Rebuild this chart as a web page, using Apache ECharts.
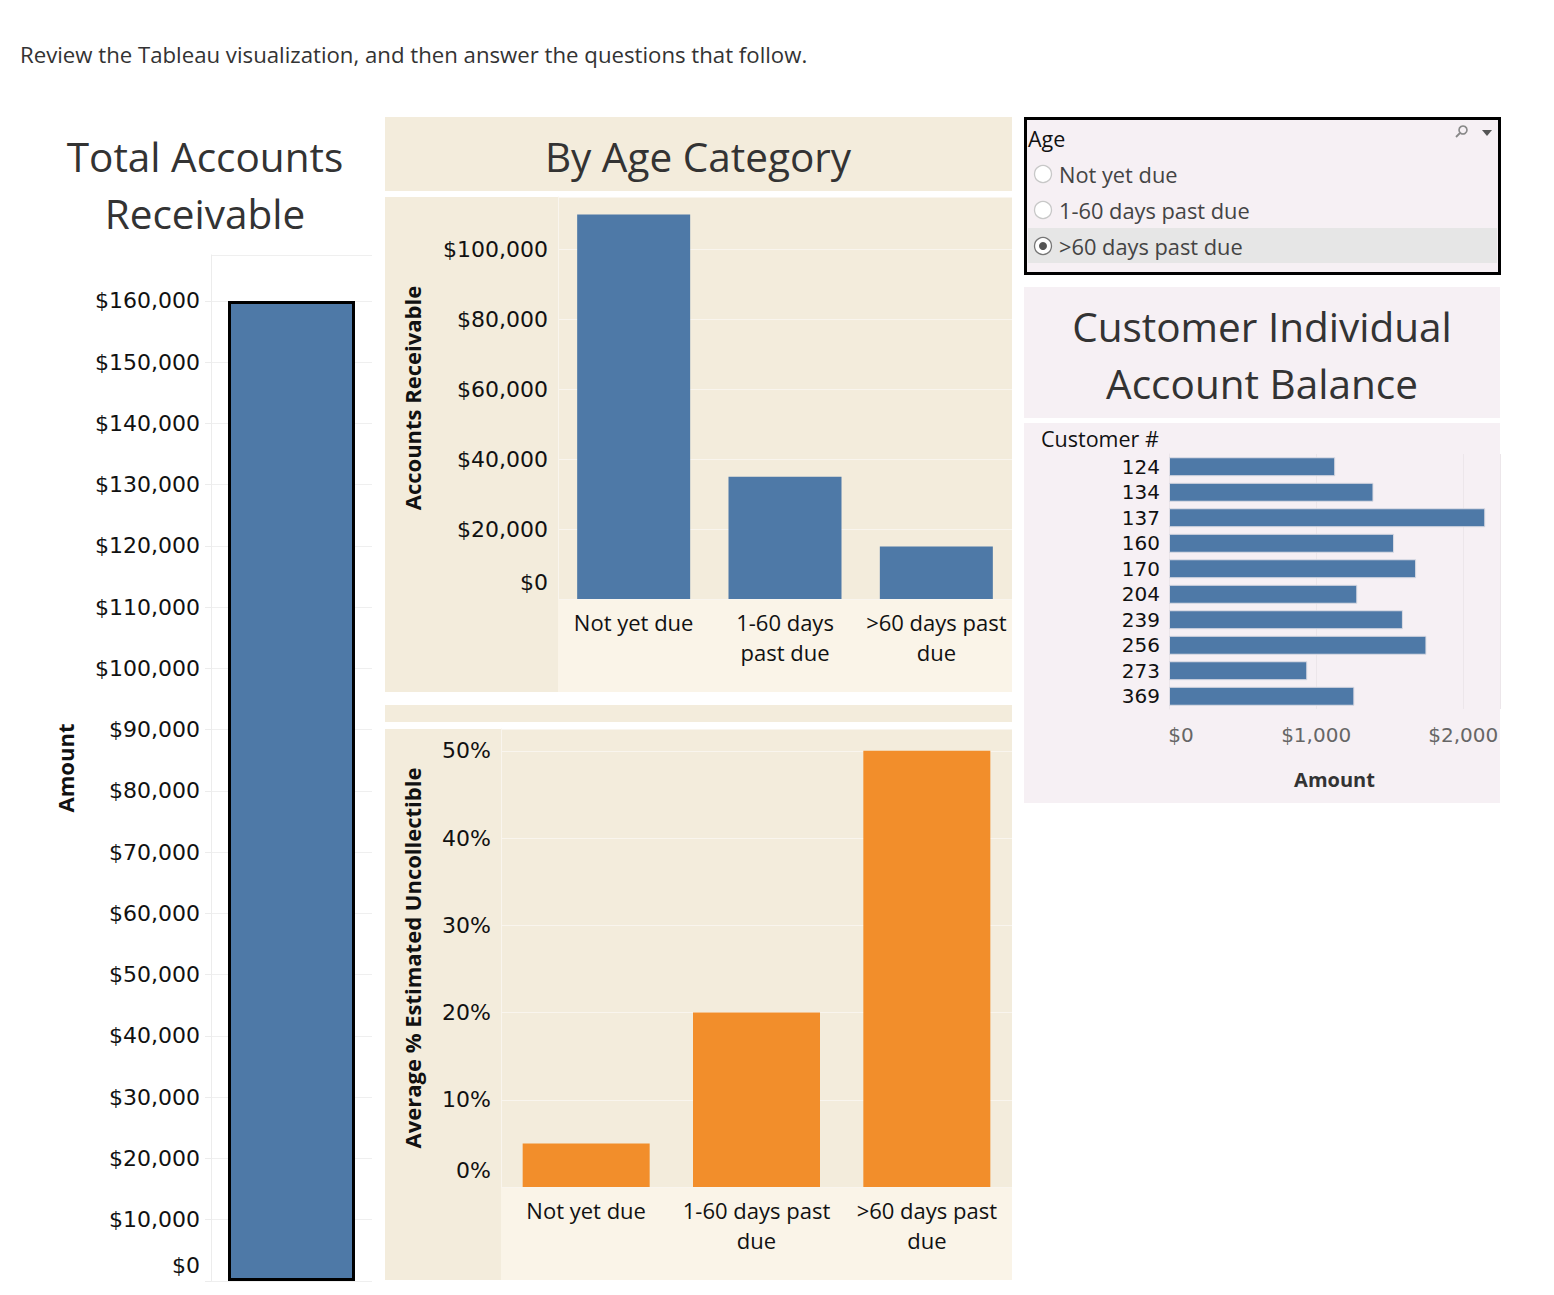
<!DOCTYPE html>
<html>
<head>
<meta charset="utf-8">
<script src="https://cdn.jsdelivr.net/npm/echarts@6/dist/echarts.min.js"></script>
<style>
  html, body { margin: 0; padding: 0; background: #ffffff; }
  #chart { position: absolute; left: 0; top: 0; width: 1554px; height: 1295px; }
</style>
</head>
<body>
<div id="chart"></div>
<script>
// ---------------- data ----------------
const totalCategories = ['Total'];
const totalAmounts = [160000];

const ageCategories = ['Not yet due', '1-60 days past due', '>60 days past due'];
const ageAmounts = [110000, 35000, 15000];
const uncollectiblePct = [0.05, 0.20, 0.50];

const topAgeLabels = ['Not yet due', '1-60 days\npast due', '>60 days past\ndue'];
const bottomAgeLabels = ['Not yet due', '1-60 days past\ndue', '>60 days past\ndue'];

const customers = ['124', '134', '137', '160', '170', '204', '239', '256', '273', '369'];
const customerAmounts = [1130, 1390, 2150, 1530, 1680, 1280, 1590, 1750, 940, 1260];

const ageFilterOptions = ['Not yet due', '1-60 days past due', '>60 days past due'];
const selectedAge = '>60 days past due';

const headerText = 'Review the Tableau visualization, and then answer the questions that follow.';

// ---------------- style ----------------
const FONT = 'Open Sans';
const NUMFONT = 'DejaVu Sans';
const BLUE = '#4e79a7';
const ORANGE = '#f28e2b';
const BEIGE = '#f3ecdc';
const BEIGE_LIGHT = '#faf4e8';
const LAV = '#f6f0f4';

function money(v) {
  return '$' + Math.round(v).toLocaleString('en-US');
}

const chart = echarts.init(document.getElementById('chart'), null, { renderer: 'svg' });

function zeroRich(pad, size) {
  return { z: { fontFamily: NUMFONT, fontSize: size, color: '#111', padding: pad } };
}

// ---------------- decorations ----------------
const graphics = [
  // header
  { type: 'text', x: 20, y: 54, z: 100, style: { text: headerText, font: '400 22.2px ' + FONT, fill: '#333', verticalAlign: 'middle' } },

  // left title
  { type: 'text', x: 205, y: 156, z: 100, style: { text: 'Total Accounts', font: '400 40.5px ' + FONT, fill: '#333', align: 'center', verticalAlign: 'middle' } },
  { type: 'text', x: 205, y: 213, z: 100, style: { text: 'Receivable', font: '400 40.5px ' + FONT, fill: '#333', align: 'center', verticalAlign: 'middle' } },

  // middle panels
  { type: 'rect', z: -10, shape: { x: 385, y: 117, width: 627, height: 74 }, style: { fill: BEIGE } },
  { type: 'text', x: 698, y: 156, z: 100, style: { text: 'By Age Category', font: '400 40.5px ' + FONT, fill: '#333', align: 'center', verticalAlign: 'middle' } },
  { type: 'rect', z: -10, shape: { x: 385, y: 197, width: 627, height: 495 }, style: { fill: BEIGE } },
  { type: 'rect', z: -9, shape: { x: 558, y: 599, width: 454, height: 93 }, style: { fill: BEIGE_LIGHT } },
  { type: 'rect', z: -10, shape: { x: 385, y: 705, width: 627, height: 17 }, style: { fill: BEIGE } },
  { type: 'rect', z: -10, shape: { x: 385, y: 729, width: 627, height: 551 }, style: { fill: BEIGE } },
  { type: 'rect', z: -9, shape: { x: 501, y: 1187, width: 511, height: 93 }, style: { fill: BEIGE_LIGHT } },

  // filter panel
  { type: 'rect', z: -10, shape: { x: 1025.5, y: 118.5, width: 474, height: 155 }, style: { fill: LAV, stroke: '#000', lineWidth: 3 } },
  { type: 'rect', z: -9, shape: { x: 1028, y: 228, width: 469, height: 35 }, style: { fill: '#e6e6e6' } },
  { type: 'text', x: 1028, y: 138, z: 100, style: { text: 'Age', font: '400 21.5px ' + FONT, fill: '#111', verticalAlign: 'middle' } },
  { type: 'circle', z: 100, shape: { cx: 1463, cy: 130, r: 4 }, style: { fill: 'none', stroke: '#888', lineWidth: 1.6 } },
  { type: 'line', z: 100, shape: { x1: 1460, y1: 133, x2: 1456, y2: 137 }, style: { stroke: '#888', lineWidth: 1.8 } },
  { type: 'polygon', z: 100, shape: { points: [[1482, 130], [1492, 130], [1487, 136]] }, style: { fill: '#555' } },

  // customer panels
  { type: 'rect', z: -10, shape: { x: 1024, y: 287, width: 476, height: 131 }, style: { fill: LAV } },
  { type: 'text', x: 1262, y: 326, z: 100, style: { text: 'Customer Individual', font: '400 40.5px ' + FONT, fill: '#333', align: 'center', verticalAlign: 'middle' } },
  { type: 'text', x: 1262, y: 383, z: 100, style: { text: 'Account Balance', font: '400 40.5px ' + FONT, fill: '#333', align: 'center', verticalAlign: 'middle' } },
  { type: 'rect', z: -10, shape: { x: 1024, y: 423, width: 476, height: 380 }, style: { fill: LAV } },
  { type: 'text', x: 1041, y: 438, z: 100, style: { text: 'Customer #', font: '400 21.5px ' + FONT, fill: '#111', verticalAlign: 'middle' } }
];

ageFilterOptions.forEach(function (opt, i) {
  const cy = 174 + i * 36;
  const sel = opt === selectedAge;
  graphics.push({ type: 'circle', z: 100, shape: { cx: 1043, cy: cy, r: 8.5 }, style: { fill: '#fff', stroke: sel ? '#777' : '#c8c8c8', lineWidth: 1.3 } });
  if (sel) {
    graphics.push({ type: 'circle', z: 101, shape: { cx: 1043, cy: cy, r: 4 }, style: { fill: '#555' } });
  }
  graphics.push({ type: 'text', x: 1059, y: cy, z: 100, style: { text: opt, font: '400 21.8px ' + FONT, fill: '#444', verticalAlign: 'middle' } });
});

// ---------------- option ----------------
const option = {
  animation: false,
  backgroundColor: '#ffffff',
  textStyle: { fontFamily: FONT },
  graphic: graphics,
  grid: [
    { left: 211, right: 1554 - 372, top: 255, bottom: 1295 - 1281 },
    { left: 558, right: 1554 - 1012, top: 197, bottom: 1295 - 599 },
    { left: 501, right: 1554 - 1012, top: 729, bottom: 1295 - 1187 },
    { left: 1169, right: 1554 - 1500, top: 454, bottom: 1295 - 709 }
  ],
  xAxis: [
    { type: 'category', gridIndex: 0, data: totalCategories, axisLine: { show: false }, axisTick: { show: false }, axisLabel: { show: false } },
    { type: 'category', gridIndex: 1, data: ageCategories, axisLine: { show: false }, axisTick: { show: false },
      axisLabel: { margin: 8, fontFamily: FONT, fontSize: 22, color: '#111', lineHeight: 30, interval: 0,
        formatter: function (v, i) { return topAgeLabels[i]; } } },
    { type: 'category', gridIndex: 2, data: ageCategories, axisLine: { show: false }, axisTick: { show: false },
      axisLabel: { margin: 8, fontFamily: FONT, fontSize: 22, color: '#111', lineHeight: 30, interval: 0,
        formatter: function (v, i) { return bottomAgeLabels[i]; } } },
    { type: 'value', gridIndex: 3, min: 0, max: 2250, interval: 1000,
      name: 'Amount', nameLocation: 'middle', nameGap: 60, nameMoveOverlap: false,
      nameTextStyle: { fontFamily: FONT, fontSize: 20, fontWeight: 'bold', color: '#333' },
      axisLine: { show: false }, axisTick: { show: false },
      splitLine: { show: true, lineStyle: { color: '#ece6ea' } },
      axisLabel: { margin: 16, fontFamily: NUMFONT, fontSize: 20, color: '#666', showMaxLabel: false,
        formatter: function (v) { return v === 0 ? '{z|' + money(v) + '}' : money(v); },
        rich: { z: { fontFamily: NUMFONT, fontSize: 20, color: '#666', padding: [0, 0, 0, 24] } } } }
  ],
  yAxis: [
    { type: 'value', gridIndex: 0, min: 0, max: 167500, interval: 10000,
      name: 'Amount', nameLocation: 'middle', nameGap: 135, nameMoveOverlap: false,
      nameTextStyle: { fontFamily: FONT, fontSize: 22, fontWeight: 'bold', color: '#111' },
      axisLine: { show: true, lineStyle: { color: '#ececec' } },
      axisTick: { show: true, length: 6, lineStyle: { color: '#ececec' } },
      splitLine: { show: true, lineStyle: { color: '#efefef' } },
      axisLabel: { margin: 11, fontFamily: NUMFONT, fontSize: 22, color: '#111', showMaxLabel: false,
        formatter: function (v) { return v === 0 ? '{z|' + money(v) + '}' : money(v); }, rich: zeroRich([0, 0, 32, 0], 22) } },
    { type: 'value', gridIndex: 1, min: 0, max: 115000, interval: 20000,
      name: 'Accounts Receivable', nameLocation: 'middle', nameGap: 135, nameMoveOverlap: false,
      nameTextStyle: { fontFamily: FONT, fontSize: 22, fontWeight: 'bold', color: '#111' },
      axisLine: { show: true, lineStyle: { color: '#f9f5ee' } },
      axisTick: { show: false },
      splitLine: { show: true, lineStyle: { color: '#f9f5ee' } },
      axisLabel: { margin: 10, fontFamily: NUMFONT, fontSize: 22, color: '#111', showMaxLabel: false,
        formatter: function (v) { return v === 0 ? '{z|' + money(v) + '}' : money(v); }, rich: zeroRich([0, 0, 34, 0], 22) } },
    { type: 'value', gridIndex: 2, min: 0, max: 0.525, interval: 0.1,
      name: 'Average % Estimated Uncollectible', nameLocation: 'middle', nameGap: 78, nameMoveOverlap: false,
      nameTextStyle: { fontFamily: FONT, fontSize: 22, fontWeight: 'bold', color: '#111' },
      axisLine: { show: true, lineStyle: { color: '#f9f5ee' } },
      axisTick: { show: false },
      splitLine: { show: true, lineStyle: { color: '#f9f5ee' } },
      axisLabel: { margin: 10, fontFamily: NUMFONT, fontSize: 22, color: '#111', showMaxLabel: false,
        formatter: function (v) { const t = Math.round(v * 100) + '%'; return v === 0 ? '{z|' + t + '}' : t; }, rich: zeroRich([0, 0, 34, 0], 22) } },
    { type: 'category', gridIndex: 3, data: customers, inverse: true,
      axisLine: { show: true, lineStyle: { color: '#ece6ea' } }, axisTick: { show: false },
      axisLabel: { margin: 9, interval: 0, fontFamily: NUMFONT, fontSize: 20, color: '#111' } }
  ],
  series: [
    { type: 'bar', xAxisIndex: 0, yAxisIndex: 0, data: totalAmounts, barWidth: 127,
      itemStyle: { color: BLUE, borderColor: '#000', borderWidth: 3 } },
    { type: 'bar', xAxisIndex: 1, yAxisIndex: 1, data: ageAmounts, barWidth: 113,
      itemStyle: { color: BLUE } },
    { type: 'bar', xAxisIndex: 2, yAxisIndex: 2, data: uncollectiblePct, barWidth: 127,
      itemStyle: { color: ORANGE } },
    { type: 'bar', xAxisIndex: 3, yAxisIndex: 3, data: customerAmounts, barWidth: 19,
      itemStyle: { color: BLUE, borderColor: '#dcdce4', borderWidth: 1 } }
  ]
};

chart.setOption(option);
</script>
</body>
</html>
